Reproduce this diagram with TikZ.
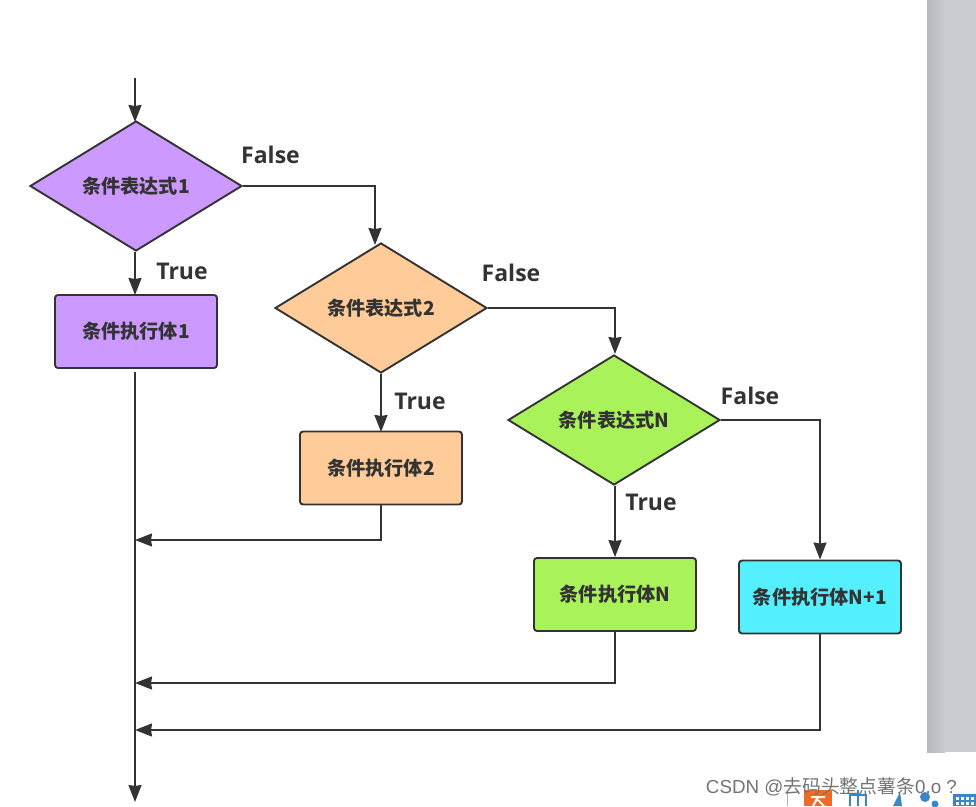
\documentclass[tikz,border=0pt]{standalone}
\usepackage{fontspec}
\setmainfont{Noto Sans CJK SC}
\newfontfamily\latinfont{Open Sans}
\newfontfamily\markfont{Liberation Sans}
\usetikzlibrary{shapes, shapes.geometric, arrows.meta, positioning}
\definecolor{linegray}{HTML}{333333}
\definecolor{panelgray}{HTML}{C8CCD1}
\definecolor{paneledge}{HTML}{B4B8BD}
\definecolor{purplefill}{HTML}{CC99FF}
\definecolor{orangefill}{HTML}{FFCC99}
\definecolor{greenfill}{HTML}{AAF25A}
\definecolor{cyanfill}{HTML}{55F0FF}
\definecolor{iconblue}{HTML}{3A86C8}
\definecolor{iconorange}{HTML}{EE6C22}

\begin{document}
\begin{tikzpicture}[
  x=1pt, y=-1pt,
  line width=1.9pt,
  cond/.style={diamond, draw=linegray, inner sep=0pt, minimum width=212pt, minimum height=130pt,
    text=linegray, font=\fontsize{19.2}{20}\selectfont\bfseries},
  body/.style={rectangle, rounded corners=3pt, draw=linegray, inner sep=0pt, minimum width=162pt, minimum height=73pt,
    text=linegray, font=\fontsize{19.2}{20}\selectfont\bfseries},
  link/.style={draw=linegray, -{Stealth[length=17pt,width=13pt,inset=1pt]}},
  flag/.style={text=linegray, inner sep=0pt, font=\latinfont\fontsize{23}{24}\selectfont\bfseries}]

  \useasboundingbox (0,0) rectangle (976,806);

  % screen behind the drawing
  \fill[panelgray] (927,0) rectangle (976,752);
  \fill[left color=paneledge, right color=panelgray, draw=none] (927,0) rectangle (945,752);

  \node[cond, fill=purplefill] (cond1) at (136,186) {条件表达式1};
  \node[body, fill=purplefill] (body1) at (136,331.5) {条件执行体1};
  \node[cond, fill=orangefill] (cond2) at (381,308) {条件表达式2};
  \node[body, fill=orangefill] (body2) at (381,468) {条件执行体2};
  \node[cond, fill=greenfill] (condN) at (614,420) {条件表达式N};
  \node[body, fill=greenfill] (bodyN) at (615,594.5) {条件执行体N};
  \node[body, fill=cyanfill] (bodyM) at (820,597) {条件执行体N+1};

  \node[flag] (false1) at (270.5,155) {False};
  \node[flag] (true1) at (182,271) {True};
  \node[flag] (false2) at (511,273) {False};
  \node[flag] (true2) at (420,401) {True};
  \node[flag] (falseN) at (750,396) {False};
  \node[flag] (trueN) at (651,502) {True};

  \coordinate (start) at (135,78);
  \coordinate (top1) at (135,122);
  \coordinate (in1) at (135,295);
  \coordinate (top2) at (375,245);
  \coordinate (in2) at (381,432);
  \coordinate (topN) at (615,354);
  \coordinate (out1) at (135,372);
  \coordinate (stop) at (135,802);
  \coordinate (join2) at (135,540);
  \coordinate (joinN) at (135,683);
  \coordinate (joinM) at (135,730);

  \draw[link] (start) -- (top1);
  \draw[link] (cond1.south -| in1) -- (in1);
  \draw[link] (cond1.east) -| (top2);
  \draw[link] (cond2.south) -- (in2);
  \draw[link] (cond2.east) -| (topN);
  \draw[link] (condN.south -| bodyN) -- (bodyN.north);
  \draw[link] (condN.east) -| (bodyM.north);
  \draw[link] (out1) -- (stop);
  \draw[link] (body2.south) |- (join2);
  \draw[link] (bodyN.south) |- (joinN);
  \draw[link] (bodyM.south) |- (joinM);

  % bits of the taskbar under the watermark
  \draw[gray!60, line width=0.8pt] (787,793) -- (787,806);
  \fill[iconorange] (804,790) rectangle (832,806);
  \draw[white, line width=2pt] (811,797) -- (825,797) (818,797) -- (813,806) (818,800) -- (824,806);
  \draw[iconblue, line width=2pt] (850,806) -- (850,795) -- (866,795) -- (866,806) (858,790) -- (858,806);
  \fill[iconblue] (893,806) -- (900,792) -- (902,806) -- cycle;
  \fill[iconblue] (925,797) circle (5pt);
  \fill[iconblue] (935,804) circle (3.5pt);
  \fill[iconblue] (953,794) rectangle (976,806);
  \foreach \col in {956,961,966,971} {
    \fill[white] (\col,797) rectangle +(3,3);
    \fill[white] (\col,802) rectangle +(3,3);
  }

  \node[anchor=base west, inner sep=0pt, text=black!55, font=\markfont\fontsize{18.8}{19}\selectfont] (mark) at (705,793)
    {CSDN @{\fontspec{Noto Sans CJK SC}去码头整点薯条}0.o ?};
\end{tikzpicture}
\end{document}
